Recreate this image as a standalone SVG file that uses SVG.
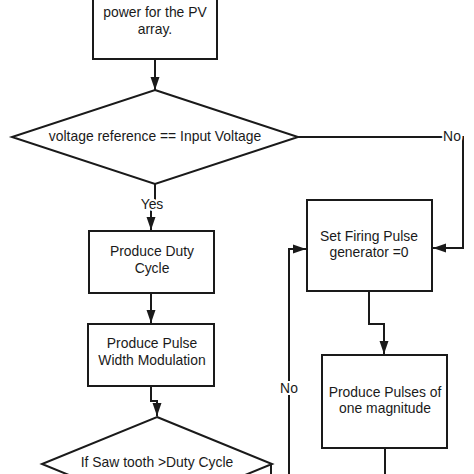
<svg xmlns="http://www.w3.org/2000/svg" width="474" height="474" viewBox="0 0 474 474">
<style>
.s{fill:#fff;stroke:#1a1a1a;stroke-width:2}
.c{fill:none;stroke:#1a1a1a;stroke-width:2}
text{font-family:"Liberation Sans",Arial,sans-serif;font-size:13.9px;fill:#1a1a1a;text-anchor:middle}
.lb{stroke:#fff;stroke-width:4;paint-order:stroke}
</style>
<defs>
<marker id="a" markerWidth="13" markerHeight="10" refX="13" refY="5" orient="auto" markerUnits="userSpaceOnUse">
<path d="M0,0.5 L13,5 L0,9.5 Z" fill="#1a1a1a"/>
</marker>
</defs>
<rect width="474" height="474" fill="#fff"/>
<g id="connectors">
<path class="c" d="M155,59 V90" marker-end="url(#a)"/>
<path class="c" d="M155,184 V205 H151 V230" marker-end="url(#a)"/>
<path class="c" d="M298,137 H463 V248 H433" marker-end="url(#a)"/>
<path class="c" d="M151,293 V323" marker-end="url(#a)"/>
<path class="c" d="M151,386 V401 H157 V416" marker-end="url(#a)"/>
<path class="c" d="M369,291 V324 H384 V354" marker-end="url(#a)"/>
<path class="c" d="M385,448 V474"/>
<path class="c" d="M289,474 V249 H306" marker-end="url(#a)"/>
<path class="c" d="M271,464 V474"/>
</g>
<g id="n1">
<rect class="s" x="93" y="-10" width="124" height="69"/>
<text x="155" y="17">power for the PV</text>
<text x="155" y="34">array.</text>
</g>
<g id="n2">
<polygon class="s" points="155,90 298,137 155,184 12,137"/>
<text x="155" y="141">voltage reference == Input Voltage</text>
</g>
<g id="n3">
<rect class="s" x="89" y="231" width="125" height="62"/>
<text x="152" y="256">Produce Duty</text>
<text x="152" y="273">Cycle</text>
</g>
<g id="n4">
<rect class="s" x="88" y="324" width="126" height="62"/>
<text x="152" y="348">Produce Pulse</text>
<text x="152" y="365">Width Modulation</text>
</g>
<g id="n5">
<polygon class="s" points="157,417 272,464 157,511 42,464"/>
<text x="157" y="467">If Saw tooth &gt;Duty Cycle</text>
</g>
<g id="n6">
<rect class="s" x="307" y="200" width="125" height="91"/>
<text x="369" y="241">Set Firing Pulse</text>
<text x="369" y="257">generator =0</text>
</g>
<g id="n7">
<rect class="s" x="322" y="355" width="125" height="93"/>
<text x="385" y="397">Produce Pulses of</text>
<text x="385" y="413">one magnitude</text>
</g>
<g id="labels">
<text class="lb" x="152" y="209">Yes</text>
<text class="lb" x="452" y="141">No</text>
<text class="lb" x="289" y="393">No</text>
</g>
</svg>
